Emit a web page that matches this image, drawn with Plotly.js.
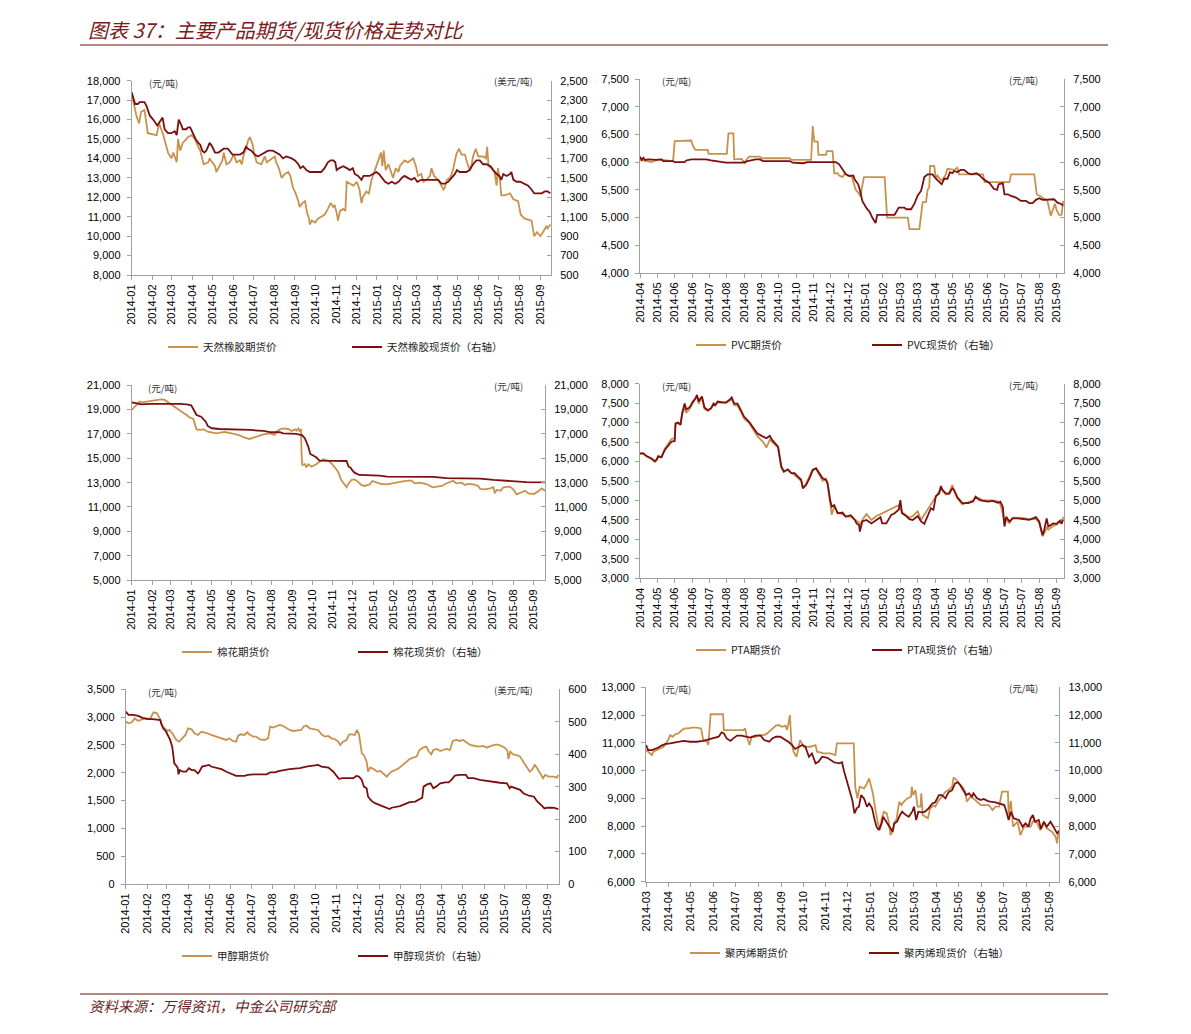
<!DOCTYPE html>
<html><head><meta charset="utf-8">
<script src="https://cdn.plot.ly/plotly-3.0.1.min.js"></script>
<style>html,body{margin:0;padding:0;background:#fff}#chart{width:1191px;height:1034px}</style>
</head><body><div id="chart"></div>
<script>
// ---------------- DATA ----------------
const rubberFutures = [['2014-01-01',17300],['2014-01-06',16400],['2014-01-08',16200],['2014-01-12',15800],['2014-01-15',16400],['2014-01-20',16500],['2014-01-25',15300],['2014-02-07',15200],['2014-02-11',15800],['2014-02-14',15500],['2014-02-17',15200],['2014-02-24',14300],['2014-03-01',14000],['2014-03-04',14300],['2014-03-09',13800],['2014-03-11',15000],['2014-03-14',14400],['2014-03-18',14800],['2014-03-26',15100],['2014-03-31',15200],['2014-04-05',15000],['2014-04-10',14600],['2014-04-13',14400],['2014-04-18',13700],['2014-04-25',13800],['2014-04-27',14000],['2014-05-05',13600],['2014-05-07',13300],['2014-05-11',13600],['2014-05-16',13900],['2014-05-18',14300],['2014-05-22',13700],['2014-05-27',13800],['2014-05-30',14000],['2014-06-02',14200],['2014-06-06',13800],['2014-06-11',13900],['2014-06-14',13700],['2014-06-16',14100],['2014-06-20',14500],['2014-06-23',14900],['2014-06-26',15100],['2014-06-30',14700],['2014-07-02',14300],['2014-07-06',13800],['2014-07-13',13700],['2014-07-18',14100],['2014-07-21',13800],['2014-07-28',14000],['2014-08-02',14100],['2014-08-04',13800],['2014-08-08',13500],['2014-08-12',13000],['2014-08-17',13200],['2014-08-22',13300],['2014-08-25',13100],['2014-08-29',12500],['2014-09-02',12200],['2014-09-06',11800],['2014-09-08',11500],['2014-09-12',11700],['2014-09-16',11800],['2014-09-19',11200],['2014-09-22',10900],['2014-09-23',10600],['2014-09-26',10800],['2014-10-01',10700],['2014-10-05',10900],['2014-10-10',11000],['2014-10-15',11100],['2014-10-20',11400],['2014-10-24',11700],['2014-10-28',11500],['2014-10-30',11600],['2014-11-02',11200],['2014-11-04',10800],['2014-11-07',11300],['2014-11-12',11400],['2014-11-15',11300],['2014-11-17',12800],['2014-11-22',12700],['2014-11-27',12600],['2014-12-02',12800],['2014-12-06',12400],['2014-12-09',11700],['2014-12-11',12000],['2014-12-16',12300],['2014-12-20',12200],['2014-12-24',12900],['2014-12-26',13100],['2014-12-31',13700],['2015-01-04',14000],['2015-01-07',14300],['2015-01-09',13600],['2015-01-11',14400],['2015-01-14',13400],['2015-01-18',13700],['2015-01-23',13200],['2015-01-25',13000],['2015-01-29',13500],['2015-02-02',13300],['2015-02-04',13600],['2015-02-08',13800],['2015-02-11',13900],['2015-02-16',13800],['2015-02-24',14000],['2015-02-28',13600],['2015-03-03',13100],['2015-03-08',13200],['2015-03-11',12800],['2015-03-16',12900],['2015-03-21',13100],['2015-03-23',13500],['2015-03-27',13100],['2015-04-02',12900],['2015-04-10',12400],['2015-04-12',12500],['2015-04-15',12900],['2015-04-20',13000],['2015-04-24',13400],['2015-04-29',14200],['2015-05-03',14500],['2015-05-07',14200],['2015-05-12',14200],['2015-05-15',13800],['2015-05-19',13400],['2015-05-22',13700],['2015-05-24',14100],['2015-05-28',14500],['2015-06-01',14100],['2015-06-08',14100],['2015-06-12',14000],['2015-06-14',14600],['2015-06-16',13600],['2015-06-21',13500],['2015-06-25',13300],['2015-06-28',12600],['2015-06-30',13500],['2015-07-03',12900],['2015-07-05',12100],['2015-07-10',12100],['2015-07-18',12200],['2015-07-23',11900],['2015-07-30',11800],['2015-08-03',11100],['2015-08-09',10900],['2015-08-19',10800],['2015-08-23',10000],['2015-08-27',10200],['2015-09-01',10000],['2015-09-05',10200],['2015-09-10',10500],['2015-09-12',10400],['2015-09-16',10600]];
const rubberSpot = [['2014-01-01',2380],['2014-01-03',2340],['2014-01-06',2260],['2014-01-10',2260],['2014-01-13',2280],['2014-01-20',2280],['2014-01-23',2240],['2014-01-28',2140],['2014-02-02',2100],['2014-02-08',2040],['2014-02-12',2080],['2014-02-16',2120],['2014-02-19',2000],['2014-02-24',1960],['2014-03-01',1960],['2014-03-06',1980],['2014-03-09',1940],['2014-03-12',2100],['2014-03-16',2040],['2014-03-18',2000],['2014-03-23',2000],['2014-03-26',2020],['2014-03-29',2020],['2014-04-02',1960],['2014-04-06',1900],['2014-04-10',1860],['2014-04-13',1840],['2014-04-16',1780],['2014-04-19',1760],['2014-04-22',1780],['2014-04-27',1860],['2014-05-01',1820],['2014-05-05',1760],['2014-05-10',1760],['2014-05-15',1780],['2014-05-18',1800],['2014-05-24',1800],['2014-05-28',1760],['2014-05-31',1740],['2014-06-06',1740],['2014-06-11',1740],['2014-06-16',1760],['2014-06-20',1820],['2014-06-23',1800],['2014-06-28',1780],['2014-07-03',1740],['2014-07-08',1720],['2014-07-13',1740],['2014-07-18',1760],['2014-07-23',1780],['2014-07-30',1780],['2014-08-04',1760],['2014-08-09',1740],['2014-08-14',1700],['2014-08-19',1720],['2014-08-27',1700],['2014-09-01',1680],['2014-09-06',1640],['2014-09-09',1600],['2014-09-13',1620],['2014-09-18',1580],['2014-09-23',1560],['2014-10-05',1560],['2014-10-10',1560],['2014-10-15',1600],['2014-10-20',1660],['2014-10-24',1680],['2014-10-28',1680],['2014-10-31',1660],['2014-11-02',1580],['2014-11-06',1600],['2014-11-12',1620],['2014-11-17',1600],['2014-11-22',1580],['2014-11-26',1600],['2014-11-29',1540],['2014-12-04',1520],['2014-12-09',1480],['2014-12-12',1520],['2014-12-21',1520],['2014-12-26',1540],['2014-12-31',1560],['2015-01-04',1540],['2015-01-08',1500],['2015-01-13',1460],['2015-01-18',1440],['2015-01-23',1460],['2015-01-28',1440],['2015-02-02',1460],['2015-02-07',1500],['2015-02-11',1520],['2015-02-16',1500],['2015-02-21',1480],['2015-02-26',1500],['2015-03-02',1460],['2015-03-08',1480],['2015-03-26',1480],['2015-04-02',1480],['2015-04-07',1440],['2015-04-12',1440],['2015-04-17',1460],['2015-04-22',1500],['2015-04-27',1540],['2015-04-30',1580],['2015-05-04',1560],['2015-05-14',1560],['2015-05-19',1580],['2015-05-24',1640],['2015-05-29',1680],['2015-06-03',1680],['2015-06-08',1640],['2015-06-13',1640],['2015-06-19',1620],['2015-06-23',1580],['2015-06-28',1540],['2015-07-02',1520],['2015-07-05',1480],['2015-07-08',1540],['2015-07-13',1520],['2015-07-18',1540],['2015-07-20',1560],['2015-07-23',1480],['2015-07-28',1460],['2015-08-02',1460],['2015-08-09',1440],['2015-08-14',1420],['2015-08-19',1380],['2015-08-23',1340],['2015-08-29',1340],['2015-09-03',1340],['2015-09-08',1360],['2015-09-12',1360],['2015-09-16',1340]];

const pvcFutures = [['2014-04-22',6040],['2014-05-06',6000],['2014-05-14',6050],['2014-05-28',6020],['2014-06-01',6020],['2014-06-03',6380],['2014-06-15',6380],['2014-06-17',6390],['2014-06-23',6390],['2014-06-25',6290],['2014-06-28',6220],['2014-07-13',6220],['2014-07-14',6150],['2014-08-05',6150],['2014-08-07',6520],['2014-08-13',6520],['2014-08-14',6050],['2014-08-23',6060],['2014-08-27',5970],['2014-08-29',6050],['2014-09-01',6100],['2014-09-14',6100],['2014-09-16',6070],['2014-10-20',6070],['2014-10-22',6040],['2014-11-15',6040],['2014-11-17',6650],['2014-11-19',6370],['2014-11-23',6370],['2014-11-24',6130],['2014-12-03',6130],['2014-12-04',6200],['2014-12-11',6200],['2014-12-13',5800],['2014-12-17',5800],['2014-12-19',5760],['2014-12-23',5730],['2014-12-26',5800],['2014-12-30',5750],['2015-01-03',5750],['2015-01-06',5600],['2015-01-08',5500],['2015-01-11',5450],['2015-01-14',5380],['2015-01-15',5500],['2015-01-18',5730],['2015-02-12',5730],['2015-02-15',5000],['2015-03-12',5000],['2015-03-14',4790],['2015-03-26',4790],['2015-03-28',5000],['2015-03-30',5280],['2015-04-03',5280],['2015-04-05',5500],['2015-04-07',5550],['2015-04-08',5930],['2015-04-13',5930],['2015-04-15',5700],['2015-04-17',5760],['2015-04-21',5670],['2015-04-24',5700],['2015-04-27',5780],['2015-04-29',5880],['2015-05-07',5860],['2015-05-11',5900],['2015-05-13',5780],['2015-06-11',5780],['2015-06-13',5640],['2015-07-13',5640],['2015-07-15',5780],['2015-08-12',5780],['2015-08-15',5420],['2015-08-20',5380],['2015-08-26',5330],['2015-08-28',5300],['2015-09-01',5030],['2015-09-04',5150],['2015-09-06',5250],['2015-09-08',5140],['2015-09-11',5050],['2015-09-14',5050],['2015-09-16',5300]];
const pvcSpot = [['2014-04-22',6100],['2014-04-24',6040],['2014-04-26',6080],['2014-04-28',6040],['2014-05-02',6050],['2014-05-12',6040],['2014-05-18',6050],['2014-05-20',6020],['2014-06-01',6020],['2014-06-03',6000],['2014-06-15',6000],['2014-06-17',6030],['2014-06-23',6050],['2014-07-11',6050],['2014-07-17',6030],['2014-07-27',6010],['2014-08-04',5990],['2014-08-24',5990],['2014-08-30',6020],['2014-09-09',6050],['2014-09-14',6050],['2014-09-18',6020],['2014-10-20',6020],['2014-10-24',5990],['2014-11-05',5980],['2014-11-11',6000],['2014-12-15',6000],['2014-12-19',5960],['2014-12-23',5880],['2014-12-27',5780],['2015-01-01',5750],['2015-01-05',5760],['2015-01-07',5680],['2015-01-11',5600],['2015-01-13',5500],['2015-01-16',5300],['2015-01-21',5170],['2015-01-25',5100],['2015-01-28',5000],['2015-02-01',4900],['2015-02-03',5050],['2015-02-24',5050],['2015-02-26',5100],['2015-03-01',5180],['2015-03-08',5180],['2015-03-10',5150],['2015-03-16',5150],['2015-03-20',5250],['2015-03-24',5400],['2015-03-28',5480],['2015-03-30',5600],['2015-04-01',5730],['2015-04-05',5780],['2015-04-11',5780],['2015-04-15',5700],['2015-04-19',5650],['2015-04-22',5600],['2015-04-25',5700],['2015-04-29',5700],['2015-05-02',5820],['2015-05-05',5800],['2015-05-07',5840],['2015-05-11',5820],['2015-05-15',5860],['2015-05-19',5860],['2015-05-24',5800],['2015-05-28',5780],['2015-06-03',5800],['2015-06-07',5760],['2015-06-11',5700],['2015-06-15',5660],['2015-06-19',5620],['2015-06-24',5520],['2015-06-28',5500],['2015-06-30',5600],['2015-07-05',5620],['2015-07-07',5420],['2015-07-11',5420],['2015-07-15',5390],['2015-07-21',5360],['2015-07-27',5300],['2015-08-02',5300],['2015-08-06',5260],['2015-08-10',5260],['2015-08-14',5320],['2015-08-18',5350],['2015-08-22',5320],['2015-08-28',5330],['2015-09-05',5330],['2015-09-09',5270],['2015-09-13',5250],['2015-09-16',5220]];

const cottonFutures = [['2014-01-01',18970],['2014-01-03',19100],['2014-01-08',19380],['2014-01-13',19660],['2014-01-16',19600],['2014-01-23',19660],['2014-01-31',19710],['2014-02-07',19800],['2014-02-15',19850],['2014-02-20',19800],['2014-02-25',19600],['2014-03-02',19380],['2014-03-10',19110],['2014-03-17',18840],['2014-03-25',18560],['2014-03-30',18340],['2014-04-04',18260],['2014-04-06',17880],['2014-04-09',17380],['2014-04-14',17330],['2014-04-20',17380],['2014-04-26',17190],['2014-05-02',17110],['2014-05-09',17050],['2014-05-14',17110],['2014-05-22',17160],['2014-06-01',17050],['2014-06-11',16920],['2014-06-21',16700],['2014-06-28',16590],['2014-07-09',16780],['2014-07-19',16970],['2014-07-29',17050],['2014-08-05',16920],['2014-08-08',17190],['2014-08-13',17380],['2014-08-18',17460],['2014-08-26',17410],['2014-08-31',17250],['2014-09-05',17380],['2014-09-07',17270],['2014-09-10',17460],['2014-09-12',17190],['2014-09-14',17410],['2014-09-15',15140],['2014-09-16',14450],['2014-09-20',14530],['2014-09-22',14260],['2014-09-25',14510],['2014-09-30',14310],['2014-10-07',14510],['2014-10-12',14730],['2014-10-17',14920],['2014-10-25',14810],['2014-10-30',14590],['2014-11-04',14260],['2014-11-09',13900],['2014-11-14',13220],['2014-11-19',12890],['2014-11-22',12620],['2014-11-25',12940],['2014-11-29',13220],['2014-12-04',13270],['2014-12-09',13080],['2014-12-14',12810],['2014-12-19',12730],['2014-12-27',12860],['2014-12-31',13140],['2015-01-06',13030],['2015-01-14',12890],['2015-01-22',12860],['2015-01-29',12940],['2015-02-06',13030],['2015-02-13',13080],['2015-02-23',13160],['2015-02-28',13160],['2015-03-05',12940],['2015-03-13',13000],['2015-03-21',12890],['2015-03-26',12810],['2015-04-01',12620],['2015-04-07',12670],['2015-04-15',12730],['2015-04-20',12890],['2015-04-27',13030],['2015-05-02',13160],['2015-05-07',12940],['2015-05-15',13000],['2015-05-20',12810],['2015-05-25',12890],['2015-06-02',12860],['2015-06-09',12730],['2015-06-12',12480],['2015-06-19',12450],['2015-06-27',12530],['2015-07-02',12620],['2015-07-04',12120],['2015-07-07',12400],['2015-07-13',12340],['2015-07-17',12620],['2015-07-27',12670],['2015-08-01',12450],['2015-08-06',12040],['2015-08-11',12180],['2015-08-19',12340],['2015-08-24',12120],['2015-09-01',12070],['2015-09-07',12260],['2015-09-13',12530],['2015-09-18',12340]];
const cottonSpot = [['2014-01-01',19600],['2014-01-11',19520],['2014-01-16',19440],['2014-01-28',19470],['2014-02-23',19490],['2014-03-15',19470],['2014-03-25',19440],['2014-04-01',19360],['2014-04-05',18970],['2014-04-09',18560],['2014-04-16',18420],['2014-04-23',18010],['2014-04-26',17660],['2014-05-02',17470],['2014-05-14',17410],['2014-06-08',17380],['2014-06-28',17330],['2014-07-19',17250],['2014-07-31',17140],['2014-08-13',17140],['2014-08-18',17050],['2014-09-07',17000],['2014-09-16',16890],['2014-09-20',16640],['2014-09-25',15960],['2014-09-28',15360],['2014-10-02',15250],['2014-10-07',15080],['2014-10-12',14810],['2014-10-22',14810],['2014-11-02',14780],['2014-11-22',14780],['2014-11-25',14310],['2014-11-28',14230],['2014-12-01',13990],['2014-12-04',13820],['2014-12-11',13630],['2014-12-22',13630],['2015-01-11',13570],['2015-01-22',13490],['2015-02-11',13470],['2015-03-03',13470],['2015-04-02',13470],['2015-04-22',13380],['2015-05-18',13330],['2015-06-12',13330],['2015-07-02',13220],['2015-07-22',13160],['2015-08-01',13140],['2015-08-21',13050],['2015-09-18',13030]];

const ptaFutures = [['2014-04-22',6200],['2014-04-26',6200],['2014-04-30',6130],['2014-05-06',6060],['2014-05-10',5990],['2014-05-12',6030],['2014-05-14',6120],['2014-05-18',6130],['2014-05-22',6330],['2014-05-26',6450],['2014-05-30',6580],['2014-06-03',6600],['2014-06-04',6950],['2014-06-07',6990],['2014-06-10',6960],['2014-06-12',7200],['2014-06-15',7400],['2014-06-17',7250],['2014-06-21',7350],['2014-06-25',7500],['2014-06-28',7600],['2014-06-30',7680],['2014-07-02',7480],['2014-07-04',7580],['2014-07-06',7620],['2014-07-09',7350],['2014-07-13',7300],['2014-07-17',7360],['2014-07-20',7470],['2014-07-22',7440],['2014-07-25',7520],['2014-07-31',7510],['2014-08-04',7500],['2014-08-08',7560],['2014-08-11',7600],['2014-08-14',7450],['2014-08-18',7440],['2014-08-22',7280],['2014-08-26',7100],['2014-09-01',6990],['2014-09-05',6860],['2014-09-11',6650],['2014-09-18',6500],['2014-09-22',6360],['2014-09-26',6560],['2014-09-29',6500],['2014-10-06',6360],['2014-10-10',5850],['2014-10-13',5760],['2014-10-18',5780],['2014-10-22',5720],['2014-10-26',5660],['2014-10-30',5580],['2014-11-03',5500],['2014-11-05',5330],['2014-11-09',5430],['2014-11-13',5600],['2014-11-17',5800],['2014-11-21',5810],['2014-11-24',5700],['2014-11-29',5500],['2014-12-03',5560],['2014-12-05',5400],['2014-12-08',4950],['2014-12-10',4630],['2014-12-13',4850],['2014-12-17',4700],['2014-12-23',4640],['2014-12-27',4600],['2015-01-02',4580],['2015-01-07',4520],['2015-01-09',4480],['2015-01-12',4430],['2015-01-13',4350],['2015-01-16',4500],['2015-01-21',4650],['2015-01-27',4500],['2015-02-02',4600],['2015-02-07',4650],['2015-03-01',4880],['2015-03-03',4800],['2015-03-05',4700],['2015-03-10',4620],['2015-03-14',4560],['2015-03-18',4600],['2015-03-24',4720],['2015-03-28',4500],['2015-04-15',5100],['2015-04-19',5220],['2015-04-21',5300],['2015-04-23',5250],['2015-04-27',5150],['2015-05-01',5200],['2015-05-05',5400],['2015-05-07',5250],['2015-05-11',5050],['2015-05-17',4900],['2015-05-24',4950],['2015-05-30',5000],['2015-06-02',5080],['2015-06-07',5050],['2015-06-11',5000],['2015-06-17',5000],['2015-06-23',5000],['2015-06-29',4980],['2015-07-02',4900],['2015-07-05',4650],['2015-07-07',4400],['2015-07-09',4500],['2015-07-13',4420],['2015-07-17',4560],['2015-07-23',4560],['2015-07-29',4550],['2015-08-06',4520],['2015-08-14',4530],['2015-08-18',4420],['2015-08-22',4080],['2015-08-24',4150],['2015-08-27',4300],['2015-08-29',4250],['2015-09-04',4350],['2015-09-08',4380],['2015-09-12',4450],['2015-09-14',4420],['2015-09-16',4580]];
const ptaSpot = [['2014-04-22',6210],['2014-04-26',6210],['2014-04-30',6140],['2014-05-06',6080],['2014-05-10',6010],['2014-05-12',6050],['2014-05-14',6140],['2014-05-18',6110],['2014-05-22',6300],['2014-05-26',6400],['2014-05-30',6510],['2014-06-03',6530],['2014-06-04',6980],['2014-06-07',7000],['2014-06-10',6940],['2014-06-12',7240],['2014-06-15',7490],['2014-06-17',7340],['2014-06-21',7390],['2014-06-25',7540],['2014-06-28',7620],['2014-06-30',7710],['2014-07-02',7540],['2014-07-04',7620],['2014-07-06',7670],['2014-07-09',7390],['2014-07-13',7320],['2014-07-17',7370],['2014-07-20',7490],['2014-07-22',7450],['2014-07-25',7540],['2014-07-31',7520],['2014-08-04',7520],['2014-08-08',7580],['2014-08-11',7650],['2014-08-14',7490],['2014-08-18',7490],['2014-08-22',7320],['2014-08-26',7150],['2014-09-01',7020],['2014-09-05',6910],['2014-09-11',6720],['2014-09-18',6640],['2014-09-22',6600],['2014-09-26',6660],['2014-09-29',6550],['2014-10-06',6380],['2014-10-10',5870],['2014-10-13',5740],['2014-10-18',5800],['2014-10-22',5700],['2014-10-26',5700],['2014-10-30',5610],['2014-11-03',5530],['2014-11-05',5310],['2014-11-09',5400],['2014-11-13',5570],['2014-11-17',5780],['2014-11-21',5830],['2014-11-24',5740],['2014-11-29',5570],['2014-12-03',5530],['2014-12-05',5440],['2014-12-08',5010],['2014-12-10',4840],['2014-12-13',4880],['2014-12-17',4670],['2014-12-23',4690],['2014-12-27',4580],['2015-01-02',4620],['2015-01-07',4500],['2015-01-09',4410],['2015-01-12',4370],['2015-01-13',4200],['2015-01-16',4460],['2015-01-21',4500],['2015-01-27',4410],['2015-02-02',4500],['2015-02-07',4570],['2015-02-09',4410],['2015-02-14',4410],['2015-02-20',4630],['2015-02-24',4670],['2015-03-01',4760],['2015-03-03',5010],['2015-03-05',4670],['2015-03-10',4600],['2015-03-14',4520],['2015-03-18',4500],['2015-03-24',4600],['2015-03-28',4460],['2015-04-01',4400],['2015-04-05',4580],['2015-04-09',4800],['2015-04-12',4760],['2015-04-15',5110],['2015-04-19',5180],['2015-04-21',5370],['2015-04-23',5270],['2015-04-27',5180],['2015-05-01',5170],['2015-05-05',5310],['2015-05-07',5270],['2015-05-11',5080],['2015-05-17',4930],['2015-05-24',4930],['2015-05-30',4970],['2015-06-02',5100],['2015-06-07',5010],['2015-06-11',4990],['2015-06-17',4970],['2015-06-23',4990],['2015-06-29',4940],['2015-07-02',4970],['2015-07-05',4840],['2015-07-07',4330],['2015-07-09',4580],['2015-07-13',4460],['2015-07-17',4540],['2015-07-23',4540],['2015-07-29',4520],['2015-08-06',4500],['2015-08-14',4570],['2015-08-18',4460],['2015-08-22',4110],['2015-08-24',4240],['2015-08-27',4540],['2015-08-29',4330],['2015-09-04',4410],['2015-09-08',4400],['2015-09-12',4480],['2015-09-14',4400],['2015-09-16',4520]];

const methanolFutures = [['2014-01-01',2919],['2014-01-05',2889],['2014-01-10',2907],['2014-01-14',2979],['2014-01-19',2931],['2014-01-24',2949],['2014-01-29',2979],['2014-02-05',2967],['2014-02-07',3009],['2014-02-10',3086],['2014-02-15',3068],['2014-02-19',2979],['2014-02-21',2889],['2014-02-25',2811],['2014-03-02',2751],['2014-03-05',2769],['2014-03-10',2691],['2014-03-15',2589],['2014-03-19',2559],['2014-03-24',2619],['2014-03-28',2679],['2014-04-01',2799],['2014-04-06',2781],['2014-04-10',2709],['2014-04-15',2679],['2014-04-20',2739],['2014-04-24',2727],['2014-04-29',2709],['2014-05-04',2679],['2014-05-09',2661],['2014-05-16',2637],['2014-05-21',2619],['2014-05-26',2589],['2014-05-30',2619],['2014-06-04',2571],['2014-06-09',2559],['2014-06-12',2667],['2014-06-16',2691],['2014-06-21',2679],['2014-06-25',2727],['2014-06-29',2679],['2014-07-04',2649],['2014-07-08',2649],['2014-07-13',2601],['2014-07-20',2589],['2014-07-25',2619],['2014-07-28',2829],['2014-08-01',2811],['2014-08-06',2829],['2014-08-11',2859],['2014-08-16',2841],['2014-08-21',2799],['2014-08-25',2769],['2014-08-30',2751],['2014-09-04',2757],['2014-09-11',2769],['2014-09-14',2829],['2014-09-18',2847],['2014-09-23',2799],['2014-09-28',2781],['2014-10-05',2769],['2014-10-10',2691],['2014-10-15',2649],['2014-10-20',2661],['2014-10-24',2619],['2014-10-29',2607],['2014-11-03',2559],['2014-11-06',2499],['2014-11-10',2559],['2014-11-15',2589],['2014-11-19',2691],['2014-11-22',2691],['2014-11-27',2679],['2014-11-30',2769],['2014-12-03',2691],['2014-12-07',2349],['2014-12-10',2319],['2014-12-14',2200],['2014-12-16',2020],['2014-12-19',2092],['2014-12-22',2080],['2014-12-26',2050],['2014-12-29',2020],['2015-01-03',2032],['2015-01-09',1960],['2015-01-12',1930],['2015-01-16',1990],['2015-01-19',2020],['2015-01-24',2050],['2015-01-28',2068],['2015-02-01',2110],['2015-02-06',2170],['2015-02-10',2212],['2015-02-14',2248],['2015-02-19',2272],['2015-02-24',2290],['2015-02-28',2409],['2015-03-05',2451],['2015-03-10',2469],['2015-03-13',2391],['2015-03-17',2331],['2015-03-20',2409],['2015-03-25',2427],['2015-03-30',2391],['2015-04-03',2409],['2015-04-08',2427],['2015-04-13',2409],['2015-04-17',2571],['2015-04-22',2589],['2015-04-27',2571],['2015-05-02',2589],['2015-05-07',2541],['2015-05-12',2499],['2015-05-19',2481],['2015-05-26',2469],['2015-05-31',2481],['2015-06-05',2451],['2015-06-12',2487],['2015-06-19',2511],['2015-06-25',2487],['2015-07-01',2451],['2015-07-05',2391],['2015-07-06',2248],['2015-07-09',2379],['2015-07-13',2331],['2015-07-18',2319],['2015-07-23',2290],['2015-07-28',2188],['2015-08-02',2092],['2015-08-06',2020],['2015-08-09',2050],['2015-08-13',2140],['2015-08-16',2092],['2015-08-21',1990],['2015-08-25',1900],['2015-08-28',1960],['2015-09-02',1930],['2015-09-09',1930],['2015-09-14',1912],['2015-09-16',1960]];
const methanolSpot = [['2014-01-01',531],['2014-01-05',521],['2014-01-12',521],['2014-01-19',518],['2014-01-26',511],['2014-02-02',508],['2014-02-09',508],['2014-02-16',505],['2014-02-20',505],['2014-02-21',495],['2014-02-24',480],['2014-02-28',470],['2014-03-03',459],['2014-03-06',444],['2014-03-09',423],['2014-03-11',392],['2014-03-12',372],['2014-03-15',364],['2014-03-17',357],['2014-03-18',338],['2014-03-20',351],['2014-03-24',346],['2014-03-29',346],['2014-04-02',357],['2014-04-06',351],['2014-04-10',351],['2014-04-15',341],['2014-04-17',346],['2014-04-21',362],['2014-04-27',365],['2014-05-01',367],['2014-05-04',362],['2014-05-11',359],['2014-05-19',354],['2014-05-26',346],['2014-06-02',339],['2014-06-09',333],['2014-06-21',333],['2014-06-26',336],['2014-07-04',338],['2014-07-16',338],['2014-07-23',338],['2014-07-28',344],['2014-08-04',344],['2014-08-09',348],['2014-08-16',351],['2014-08-25',354],['2014-09-09',357],['2014-09-18',362],['2014-09-28',365],['2014-10-05',367],['2014-10-10',362],['2014-10-20',359],['2014-10-27',346],['2014-11-01',334],['2014-11-04',324],['2014-11-10',326],['2014-11-20',326],['2014-11-25',326],['2014-11-29',333],['2014-12-03',331],['2014-12-07',321],['2014-12-10',300],['2014-12-14',295],['2014-12-16',269],['2014-12-21',256],['2014-12-26',249],['2015-01-02',243],['2015-01-09',238],['2015-01-16',231],['2015-01-19',235],['2015-01-26',238],['2015-01-31',240],['2015-02-07',246],['2015-02-14',252],['2015-02-22',254],['2015-02-27',259],['2015-03-04',266],['2015-03-06',300],['2015-03-11',307],['2015-03-16',310],['2015-03-20',295],['2015-03-24',300],['2015-03-30',310],['2015-04-06',313],['2015-04-11',313],['2015-04-15',321],['2015-04-20',334],['2015-04-27',336],['2015-05-06',336],['2015-05-09',326],['2015-05-17',326],['2015-05-26',321],['2015-06-05',318],['2015-06-14',313],['2015-06-24',312],['2015-07-04',310],['2015-07-08',295],['2015-07-10',300],['2015-07-13',298],['2015-07-18',295],['2015-07-23',290],['2015-07-28',279],['2015-08-05',272],['2015-08-12',269],['2015-08-16',256],['2015-08-24',240],['2015-08-27',233],['2015-08-31',235],['2015-09-09',235],['2015-09-16',231]];

const ppFutures = [['2014-03-01',10740],['2014-03-04',10660],['2014-03-09',10560],['2014-03-11',10680],['2014-03-16',10740],['2014-03-20',10800],['2014-03-25',10860],['2014-03-28',10980],['2014-03-31',11100],['2014-04-03',11280],['2014-04-06',11220],['2014-04-10',11310],['2014-04-14',11340],['2014-04-19',11460],['2014-04-23',11520],['2014-04-28',11520],['2014-05-02',11550],['2014-05-09',11550],['2014-05-15',11520],['2014-05-18',11100],['2014-05-23',11040],['2014-05-25',10920],['2014-05-28',12030],['2014-06-14',12030],['2014-06-15',11460],['2014-07-12',11460],['2014-07-14',11520],['2014-07-16',11260],['2014-07-20',10920],['2014-07-23',11220],['2014-07-28',11220],['2014-08-02',11280],['2014-08-09',11280],['2014-08-13',11340],['2014-08-20',11520],['2014-08-25',11620],['2014-08-29',11640],['2014-09-02',11580],['2014-09-07',11620],['2014-09-09',11460],['2014-09-11',11700],['2014-09-13',12000],['2014-09-15',11040],['2014-09-18',10680],['2014-09-22',10500],['2014-09-25',10800],['2014-09-27',11100],['2014-10-02',10860],['2014-10-11',10860],['2014-10-18',10920],['2014-10-20',10680],['2014-10-29',10620],['2014-11-07',10620],['2014-11-14',10560],['2014-11-16',10980],['2014-12-09',10980],['2014-12-11',9420],['2014-12-14',9000],['2014-12-17',9420],['2014-12-23',9360],['2014-12-26',9480],['2014-12-30',9720],['2015-01-01',9540],['2015-01-04',9180],['2015-01-08',8520],['2015-01-11',8100],['2015-01-14',7860],['2015-01-16',8280],['2015-01-19',8520],['2015-01-23',8460],['2015-01-26',8100],['2015-01-28',7680],['2015-01-31',7800],['2015-02-03',8160],['2015-02-05',8220],['2015-02-09',8880],['2015-02-12',8760],['2015-02-15',8880],['2015-02-20',9000],['2015-02-25',9060],['2015-02-26',9420],['2015-02-28',9120],['2015-03-03',9300],['2015-03-06',8700],['2015-03-10',8700],['2015-03-11',9180],['2015-03-13',8400],['2015-03-16',8340],['2015-03-20',8280],['2015-03-23',8640],['2015-03-28',8740],['2015-03-30',8700],['2015-04-04',8940],['2015-04-08',9060],['2015-04-13',9240],['2015-04-17',9300],['2015-04-22',9420],['2015-04-24',9750],['2015-04-28',9660],['2015-05-01',9540],['2015-05-06',9420],['2015-05-10',9240],['2015-05-12',8880],['2015-05-17',9060],['2015-05-21',9000],['2015-05-26',8880],['2015-05-31',8760],['2015-06-04',8760],['2015-06-11',8760],['2015-06-16',8580],['2015-06-20',8700],['2015-06-25',8700],['2015-06-29',9240],['2015-07-07',9240],['2015-07-08',8400],['2015-07-11',8910],['2015-07-14',7980],['2015-07-20',8160],['2015-07-24',7680],['2015-07-29',7980],['2015-08-07',7980],['2015-08-11',8220],['2015-08-16',8100],['2015-08-20',7860],['2015-08-25',8100],['2015-08-29',7920],['2015-09-05',7800],['2015-09-10',7620],['2015-09-12',7380],['2015-09-14',7860],['2015-09-15',7800]];
const ppSpot = [['2014-03-01',10920],['2014-03-04',10740],['2014-03-09',10740],['2014-03-13',10780],['2014-03-18',10830],['2014-03-22',10900],['2014-03-27',10950],['2014-04-03',10980],['2014-04-12',11020],['2014-04-21',11070],['2014-04-30',11040],['2014-05-09',11040],['2014-05-18',11070],['2014-05-23',11100],['2014-05-30',11140],['2014-06-03',11190],['2014-06-08',11220],['2014-06-12',11380],['2014-06-15',11340],['2014-06-19',11160],['2014-06-24',11070],['2014-06-28',11160],['2014-07-03',11260],['2014-07-09',11260],['2014-07-14',11220],['2014-07-21',11190],['2014-07-28',11260],['2014-08-04',11260],['2014-08-09',11100],['2014-08-16',11040],['2014-08-20',11160],['2014-08-25',11220],['2014-08-31',11220],['2014-09-04',11140],['2014-09-09',11070],['2014-09-11',11040],['2014-09-16',10920],['2014-09-20',10780],['2014-09-25',10860],['2014-09-30',10920],['2014-10-04',10860],['2014-10-09',10500],['2014-10-13',10620],['2014-10-18',10260],['2014-10-22',10320],['2014-10-27',10500],['2014-11-03',10460],['2014-11-07',10380],['2014-11-12',10300],['2014-11-19',10260],['2014-11-23',10300],['2014-11-26',9960],['2014-11-30',9600],['2014-12-04',9180],['2014-12-07',8940],['2014-12-10',8460],['2014-12-13',8640],['2014-12-16',8700],['2014-12-19',9120],['2014-12-23',9000],['2014-12-27',8700],['2014-12-30',8820],['2015-01-03',8640],['2015-01-06',8280],['2015-01-09',7980],['2015-01-12',7860],['2015-01-16',8100],['2015-01-18',8340],['2015-01-21',8220],['2015-01-25',8040],['2015-01-28',7920],['2015-01-31',7800],['2015-02-02',8100],['2015-02-06',8160],['2015-02-10',8400],['2015-02-13',8520],['2015-02-18',8400],['2015-02-22',8340],['2015-02-27',8540],['2015-03-01',8700],['2015-03-04',8220],['2015-03-07',8520],['2015-03-12',8500],['2015-03-16',8520],['2015-03-21',8640],['2015-03-26',8820],['2015-03-30',8860],['2015-04-04',9120],['2015-04-08',9120],['2015-04-13',9000],['2015-04-17',9220],['2015-04-22',9300],['2015-04-26',9540],['2015-04-30',9580],['2015-05-03',9480],['2015-05-07',9300],['2015-05-11',9120],['2015-05-15',9180],['2015-05-19',9060],['2015-05-21',9180],['2015-05-26',9000],['2015-05-31',8940],['2015-06-04',8980],['2015-06-09',8910],['2015-06-13',8880],['2015-06-20',8860],['2015-06-27',8790],['2015-07-02',8760],['2015-07-05',8520],['2015-07-08',8220],['2015-07-11',8520],['2015-07-15',8280],['2015-07-22',8220],['2015-07-27',7980],['2015-07-31',8100],['2015-08-04',7980],['2015-08-07',8280],['2015-08-10',8400],['2015-08-13',8160],['2015-08-18',8220],['2015-08-21',7900],['2015-08-25',8160],['2015-08-29',7980],['2015-09-03',8160],['2015-09-07',7980],['2015-09-12',7740],['2015-09-15',7820]];

// tick labels for the two trading-day axes (PVC, PTA)
const tradeTickDates = ['2014-04-22','2014-05-13','2014-06-03','2014-06-24','2014-07-15','2014-08-05','2014-08-26','2014-09-16','2014-10-07','2014-10-28','2014-11-18','2014-12-09','2014-12-30','2015-01-20','2015-02-10','2015-03-03','2015-03-24','2015-04-14','2015-05-05','2015-05-26','2015-06-16','2015-07-07','2015-07-28','2015-08-18','2015-09-08'];
const tradeTickText = ['2014-04','2014-05','2014-06','2014-06','2014-07','2014-08','2014-08','2014-09','2014-10','2014-10','2014-11','2014-12','2014-12','2015-01','2015-02','2015-03','2015-03','2015-04','2015-05','2015-05','2015-06','2015-07','2015-07','2015-08','2015-09'];

const seriesNames = [
  ['天然橡胶期货价','天然橡胶现货价（右轴）'],
  ['PVC期货价','PVC现货价（右轴）'],
  ['棉花期货价','棉花现货价（右轴）'],
  ['PTA期货价','PTA现货价（右轴）'],
  ['甲醇期货价','甲醇现货价（右轴）'],
  ['聚丙烯期货价','聚丙烯现货价（右轴）']
];
const unitLabels = [['(元/吨)','(美元/吨)'],['(元/吨)','(元/吨)'],['(元/吨)','(元/吨)'],['(元/吨)','(元/吨)'],['(元/吨)','(美元/吨)'],['(元/吨)','(元/吨)']];
const titleText = '图表 37：主要产品期货/现货价格走势对比';
const sourceText = '资料来源：万得资讯，中金公司研究部';

// ---------------- LAYOUT ----------------
const W = 1191, H = 1034;
const TAN = '#C8924E', MAROON = '#7B0F0F', AXIS = '#A0A0A0';
const LAT = '"Liberation Sans", Arial, "Noto Sans CJK SC", sans-serif';
const CJK = '"Noto Sans CJK SC", "Liberation Sans", sans-serif';

const panels = [
  {fut: rubberFutures, spot: rubberSpot, box:[131.7,80.7,551,275], yl:[8000,18000,1000], yr:[500,2500,200], xr:['2014-01-01','2015-09-17'], tick0:'2014-01-01', unit:[147,83,492,81], leg:[163,347,347]},
  {fut: pvcFutures, spot: pvcSpot, box:[640,79,1064,273], yl:[4000,7500,500], yr:[4000,7500,500], xr:['2014-04-22','2015-09-17'], trade:true, unit:[660,81,1007,80], leg:[691,867,345]},
  {fut: cottonFutures, spot: cottonSpot, box:[131.7,385.3,545,580], yl:[5000,21000,2000], yr:[5000,21000,2000], xr:['2014-01-01','2015-09-18'], tick0:'2014-01-01', unit:[146,388,492,386], leg:[177,353,652]},
  {fut: ptaFutures, spot: ptaSpot, box:[640,383.7,1064,578.3], yl:[3000,8000,500], yr:[3000,8000,500], xr:['2014-04-22','2015-09-17'], trade:true, unit:[660,386,1007,385], leg:[691,867,650]},
  {fut: methanolFutures, spot: methanolSpot, box:[125.7,689.3,559,884], yl:[0,3500,500], yr:[0,600,100], xr:['2014-01-01','2015-09-17'], tick0:'2014-01-01', unit:[146,692,492,690], leg:[177,353,956]},
  {fut: ppFutures, spot: ppSpot, box:[646,687.3,1059.3,881.7], yl:[6000,13000,1000], yr:[6000,13000,1000], xr:['2014-03-01','2015-09-15'], tick0:'2014-03-01', unit:[660,689,1007,688], leg:[685,864,953]}
];

const data = [];
const layout = {
  width: W, height: H, margin: {l:0, r:0, t:0, b:0},
  paper_bgcolor: '#fff', plot_bgcolor: '#fff',
  showlegend: true, annotations: [], shapes: [],
  font: {family: LAT, size: 11, color: '#000'}
};

const axStyle = {
  showline: true, linecolor: AXIS, linewidth: 1, showgrid: false, zeroline: false,
  tickcolor: AXIS, ticklen: 4, tickfont: {family: LAT, size: 11, color: '#000'}, fixedrange: true
};

panels.forEach((p, i) => {
  const n = i + 1;
  const xk = n === 1 ? 'x' : 'x' + n;
  const yl = 'y' + (2*n - 1 === 1 ? '' : (2*n - 1));
  const yr = 'y' + (2*n);
  const [x0, y0, x1, y1] = p.box;
  const xd = [x0 / W, x1 / W];
  const yd = [1 - y1 / H, 1 - y0 / H];

  const xa = Object.assign({}, axStyle, {
    domain: xd, anchor: yl, type: 'date', range: p.xr, ticks: 'outside', tickangle: -90
  });
  if (p.trade) {
    xa.tickmode = 'array'; xa.tickvals = tradeTickDates; xa.ticktext = tradeTickText;
  } else {
    xa.tickmode = 'linear'; xa.tick0 = p.tick0; xa.dtick = 'M1'; xa.tickformat = '%Y-%m';
  }
  layout[n === 1 ? 'xaxis' : 'xaxis' + n] = xa;

  layout[yl === 'y' ? 'yaxis' : 'yaxis' + (2*n - 1)] = Object.assign({}, axStyle, {
    domain: yd, anchor: xk, range: [p.yl[0], p.yl[1]], dtick: p.yl[2], tick0: p.yl[0],
    tickformat: ',d', ticks: 'outside', ticklabelstandoff: 4
  });
  layout['yaxis' + (2*n)] = Object.assign({}, axStyle, {
    domain: yd, anchor: xk, overlaying: yl, side: 'right', range: [p.yr[0], p.yr[1]], dtick: p.yr[2], tick0: p.yr[0],
    tickformat: ',d', ticks: 'inside', ticklabelstandoff: 6
  });

  const lg1 = (2*n - 1) === 1 ? 'legend' : 'legend' + (2*n - 1);
  const lg2 = 'legend' + (2*n);
  data.push({
    type: 'scatter', mode: 'lines', name: seriesNames[i][0],
    x: p.fut.map(d => d[0]), y: p.fut.map(d => d[1]),
    xaxis: xk, yaxis: yl, line: {color: TAN, width: 1.8}, legend: lg1, hoverinfo: 'skip'
  });
  data.push({
    type: 'scatter', mode: 'lines', name: seriesNames[i][1],
    x: p.spot.map(d => d[0]), y: p.spot.map(d => d[1]),
    xaxis: xk, yaxis: yr, line: {color: MAROON, width: 1.8}, legend: lg2, hoverinfo: 'skip'
  });
  const legBase = {
    xanchor: 'left', yanchor: 'middle', orientation: 'h', bgcolor: 'rgba(0,0,0,0)',
    borderwidth: 0, font: {family: CJK, size: 10.5, color: '#222'}, itemwidth: 30
  };
  layout[lg1] = Object.assign({}, legBase, {x: p.leg[0] / W, y: 1 - p.leg[2] / H});
  layout[lg2] = Object.assign({}, legBase, {x: p.leg[1] / W, y: 1 - p.leg[2] / H});

  layout.annotations.push({
    xref: 'paper', yref: 'paper', x: p.unit[0] / W, y: 1 - p.unit[1] / H, xanchor: 'left', yanchor: 'middle',
    text: unitLabels[i][0], showarrow: false, font: {family: CJK, size: 9.5, color: '#333'}
  });
  layout.annotations.push({
    xref: 'paper', yref: 'paper', x: p.unit[2] / W, y: 1 - p.unit[3] / H, xanchor: 'left', yanchor: 'middle',
    text: unitLabels[i][1], showarrow: false, font: {family: CJK, size: 9.5, color: '#333'}
  });
});

// title, footer & rules
layout.annotations.push({
  xref: 'paper', yref: 'paper', x: 86 / W, y: 1 - 30 / H, xanchor: 'left', yanchor: 'middle',
  text: '<i>' + titleText + '</i>', showarrow: false, font: {family: CJK, size: 20, color: '#7B1C1C'}
});
layout.annotations.push({
  xref: 'paper', yref: 'paper', x: 87 / W, y: 1 - 1005 / H, xanchor: 'left', yanchor: 'middle',
  text: '<i>' + sourceText + '</i>', showarrow: false, font: {family: CJK, size: 14.5, color: '#6B1F1F'}
});
layout.shapes.push({type: 'line', xref: 'paper', yref: 'paper', x0: 80 / W, x1: 1108 / W, y0: 1 - 45 / H, y1: 1 - 45 / H, line: {color: '#A05A5A', width: 1.5}});
layout.shapes.push({type: 'line', xref: 'paper', yref: 'paper', x0: 80 / W, x1: 1108 / W, y0: 1 - 994 / H, y1: 1 - 994 / H, line: {color: '#A05A5A', width: 1.5}});

Plotly.newPlot('chart', data, layout, {staticPlot: true, displayModeBar: false});
</script>
</body></html>
